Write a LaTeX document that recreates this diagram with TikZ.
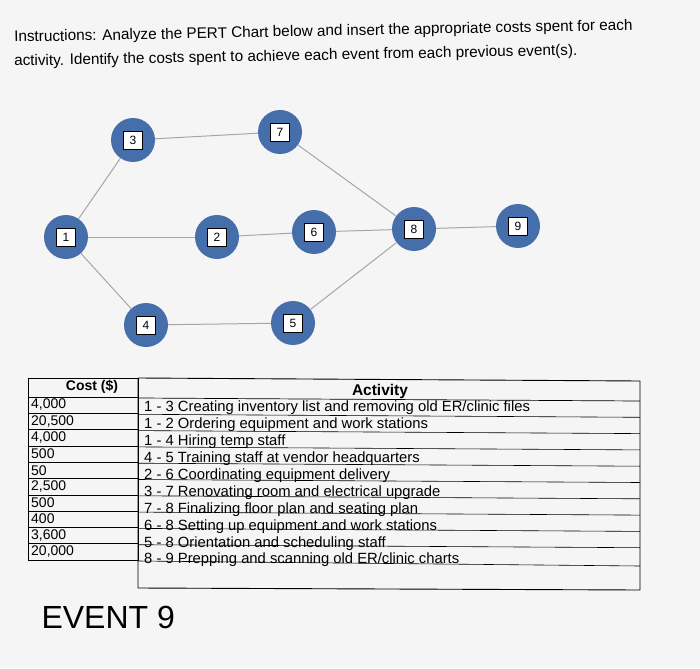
\documentclass[tikz,border=0pt]{standalone}
\usepackage{fontspec}
\setmainfont{Liberation Sans}
\begin{document}
\begin{tikzpicture}[x=1pt,y=-1pt,
  lbl/.style={draw=black,fill=white,line width=0.9pt,minimum width=19pt,minimum height=18pt,inner sep=0pt,font=\fontsize{12}{12}\selectfont},
  con/.style={draw=gray!70,line width=1pt},
  cell/.style={anchor=west,inner sep=0pt,font=\fontsize{14.8}{15}\selectfont}]
\definecolor{evblue}{RGB}{70,110,170}
\tikzset{ev/.style={circle,fill=evblue,minimum size=44pt,inner sep=0pt}}
\fill[gray!8] (0,0) rectangle (700,668);
\useasboundingbox (0,0) rectangle (700,668);
\node[anchor=west,font=\fontsize{15.3}{16}\selectfont,rotate=1.1,inner sep=0pt] (t1) at (14,38) {Instructions: Analyze the PERT Chart below and insert the appropriate costs spent for each};
\node[anchor=west,font=\fontsize{15.3}{16}\selectfont,rotate=1.1,inner sep=0pt] (t2) at (14,62) {activity. Identify the costs spent to achieve each event from each previous event(s).};
\foreach \n/\x/\y in {1/66/237,3/133/140,7/280/132,2/217/237,6/314/232,8/414/229,9/518/226,4/146/325,5/293/323}{
  \node[ev] (e\n) at (\x,\y) {};
  \node[lbl] at (e\n) {\n};
}
\draw[con] (e1)--(e3); \draw[con] (e1)--(e2); \draw[con] (e1)--(e4);
\draw[con] (e3)--(e7); \draw[con] (e2)--(e6); \draw[con] (e4)--(e5);
\draw[con] (e7)--(e8); \draw[con] (e6)--(e8); \draw[con] (e5)--(e8); \draw[con] (e8)--(e9);
% table
\draw[line width=0.9pt] (28,378) rectangle (138,560);
\draw[line width=0.9pt] (138,378) -- (640,381) -- (640,590) -- (138,588) -- (138,378);
\draw[line width=0.7pt] (28,397) -- (138,397);
\draw[line width=0.7pt] (138,398) -- (640,401);
\foreach \i in {1,...,9}{
  \draw[line width=0.6pt] (28,{397+16.3*\i}) -- (138,{397+16.3*\i});
  \draw[line width=0.6pt] (138,{398+16.3*\i}) -- (640,{401+16.3*\i});
}
\draw[line width=0.6pt] (138,561) -- (640,566);
\node[font=\bfseries\fontsize{14}{14}\selectfont] (ch) at (92,387) {Cost (\$)};
\node[font=\bfseries\fontsize{15.5}{15}\selectfont] (ah) at (380,391) {Activity};
\foreach \i/\c/\a in {0/4{,}000/{1 - 3  Creating inventory list and removing old ER/clinic files},
  1/20{,}500/{1 - 2  Ordering equipment and work stations},
  2/4{,}000/{1 - 4  Hiring temp staff},
  3/500/{4 - 5  Training staff at vendor headquarters},
  4/50/{2 - 6  Coordinating equipment delivery},
  5/2{,}500/{3 - 7  Renovating room and electrical upgrade},
  6/500/{7 - 8  Finalizing floor plan and seating plan},
  7/400/{6 - 8  Setting up equipment and work stations},
  8/3{,}600/{5 - 8  Orientation and scheduling staff},
  9/20{,}000/{8 - 9  Prepping and scanning old ER/clinic charts}}{
  \node[cell,font=\fontsize{14}{14}\selectfont] at (31,{405+16.3*\i}) {\c};
  \node[cell] at (144,{408+16.3*\i+0.6*\i}) {\a};
}
\node[anchor=west,font=\fontsize{32}{32}\selectfont] (ev9) at (38,617) {EVENT 9};
\end{tikzpicture}
\end{document}
